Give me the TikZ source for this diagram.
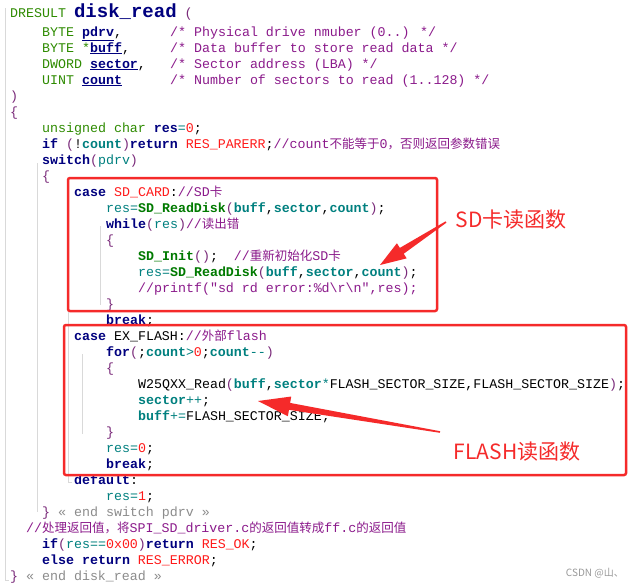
\documentclass[tikz,border=0pt]{standalone}
\usepackage{fontspec}
\usetikzlibrary{calc}
\newfontfamily\code{Liberation Mono}
\newfontfamily\cjk{Noto Sans CJK SC}
\definecolor{kw}{HTML}{00007F}
\definecolor{ty}{HTML}{2E8B00}
\definecolor{cm}{HTML}{8B1A8B}
\definecolor{rd}{HTML}{FF1A1A}
\definecolor{va}{HTML}{00807F}
\definecolor{fn}{HTML}{007A00}
\definecolor{pu}{HTML}{7A2A7A}
\definecolor{box}{HTML}{F52A2A}
\newcommand\kw[1]{\textcolor{kw}{\textbf{#1}}}
\newcommand\ty[1]{\textcolor{ty}{#1}}
\newcommand\pa[1]{\textcolor{kw}{\textbf{\underline{#1}}}}
\newcommand\cm[1]{\textcolor{cm}{#1}}
\newcommand\zh[1]{{\cjk\fontsize{12.5}{16}\selectfont #1}}
\newcommand\rd[1]{\textcolor{rd}{#1}}
\newcommand\va[1]{\textcolor{va}{#1}}
\newcommand\vb[1]{\textcolor{va}{\textbf{#1}}}
\newcommand\fn[1]{\textcolor{fn}{\textbf{#1}}}
\newcommand\pu[1]{\textcolor{pu}{#1}}
\tikzset{
  ln/.style={anchor=base west,inner sep=0pt,font=\code\fontsize{13.3}{16}\selectfont},
  redbox/.style={draw=box,line width=2.5pt,rounded corners=2pt},
  lbl/.style={text=box,font=\cjk\fontsize{21}{24}\selectfont,inner sep=0pt},
  fold/.style={draw=black!15,line width=0.6pt},
}
\newcommand\bigarrow[4]{% tip, tail, headlen, headhalf
  \fill[box] (#1) -- ($($(#1)!#3!(#2)$)!#4!90:(#2)$) -- ($($(#1)!#3!(#2)$)!3.5pt!90:(#2)$)
    -- ($(#2)!0.8pt!-90:(#1)$) -- ($(#2)!0.8pt!90:(#1)$)
    -- ($($(#1)!#3!(#2)$)!3.5pt!-90:(#2)$) -- ($($(#1)!#3!(#2)$)!#4!-90:(#2)$) -- cycle;}
\begin{document}
\begin{tikzpicture}[x=1pt,y=-1pt]
\useasboundingbox[fill=white] (0,0) rectangle (636,587);
% fold guides
\draw[fold] (5,8) -- (5,580) -- (9,580);
\draw[fold] (37,163) -- (37,512);
\draw[fold] (68,180) -- (68,482) -- (72,482);
\draw[fold] (100,226) -- (100,305);
\draw[fold] (82,354) -- (82,434);
\node[ln] (a1) at (10,17) {\ty{DRESULT} {\fontsize{19}{20}\selectfont\kw{disk\_read}} \pu{(}};
\node[ln] (a2) at (42,36) {\ty{BYTE} \pa{pdrv},};
\node[ln] (a3) at (42,52) {\ty{BYTE} \ty{*}\pa{buff},};
\node[ln] (a4) at (42,68) {\ty{DWORD} \pa{sector},};
\node[ln] (a5) at (42,84) {\ty{UINT} \pa{count}};
\node[ln] (c2) at (170,36) {\cm{/* Physical drive nmuber (0..) */}};
\node[ln] (c3) at (170,52) {\cm{/* Data buffer to store read data */}};
\node[ln] (c4) at (170,68) {\cm{/* Sector address (LBA) */}};
\node[ln] (c5) at (170,84) {\cm{/* Number of sectors to read (1..128) */}};
\node[ln] (a6) at (10,100) {\pu{)}};
\node[ln] (a7) at (10,116) {\pu{\{}};
\node[ln] (a8) at (42,132) {\ty{unsigned char} \kw{res}\va{=}\rd{0};};
\node[ln] (a9) at (42,148) {\kw{if} \pu{(}!\vb{count}\pu{)}\kw{return} \rd{RES\_PARERR};\cm{//count\zh{不能等于}0\zh{，否则返回参数错误}}};
\node[ln] (a10) at (42,164) {\kw{switch}\pu{(}\va{pdrv}\pu{)}};
\node[ln] (a11) at (42,180) {\pu{\{}};
\node[ln] (a12) at (74,196) {\kw{case} \rd{SD\_CARD}:\cm{//SD\zh{卡}}};
\node[ln] (a13) at (106,212) {\va{res=}\fn{SD\_ReadDisk}\pu{(}\vb{buff},\vb{sector},\vb{count}\pu{)};};
\node[ln] (a14) at (106,228) {\kw{while}\pu{(}\va{res}\pu{)}\cm{//\zh{读出错}}};
\node[ln] (a15) at (106,244) {\pu{\{}};
\node[ln] (a16) at (138,260) {\fn{SD\_Init}\pu{()};\ \ \cm{//\zh{重新初始化}SD\zh{卡}}};
\node[ln] (a17) at (138,276) {\va{res=}\fn{SD\_ReadDisk}\pu{(}\vb{buff},\vb{sector},\vb{count}\pu{)};};
\node[ln] (a18) at (138,292) {\cm{//printf("sd rd error:\%d\textbackslash r\textbackslash n",res);}};
\node[ln] (a19) at (106,308) {\pu{\}}};
\node[ln] (a20) at (106,324) {\kw{break};};
\node[ln] (a21) at (74,340) {\kw{case} EX\_FLASH:\cm{//\zh{外部}flash}};
\node[ln] (a22) at (106,356) {\kw{for}\pu{(};\vb{count}\va{>}\rd{0};\vb{count}\va{-{}-}\pu{)}};
\node[ln] (a23) at (106,372) {\pu{\{}};
\node[ln] (a24) at (138,388) {W25QXX\_Read\pu{(}\vb{buff},\vb{sector}\va{*}FLASH\_SECTOR\_SIZE,FLASH\_SECTOR\_SIZE\pu{)};};
\node[ln] (a25) at (138,404) {\vb{sector}\va{++};};
\node[ln] (a26) at (138,420) {\vb{buff}\va{+=}FLASH\_SECTOR\_SIZE;};
\node[ln] (a27) at (106,436) {\pu{\}}};
\node[ln] (a28) at (106,452) {\va{res=}\rd{0};};
\node[ln] (a29) at (106,468) {\kw{break};};
\node[ln] (a30) at (74,484) {\kw{default}:};
\node[ln] (a31) at (106,500) {\va{res=}\rd{1};};
\node[ln] (a32) at (42,516) {\pu{\}} \textcolor{black!45}{« end switch pdrv »}};
\node[ln] (a33) at (26,532) {\cm{//\zh{处理返回值，将}SPI\_SD\_driver.c\zh{的返回值转成}ff.c\zh{的返回值}}};
\node[ln] (a34) at (42,548) {\kw{if}\pu{(}\va{res==}\rd{0x00}\pu{)}\kw{return} \rd{RES\_OK};};
\node[ln] (a35) at (42,564) {\kw{else} \kw{return} \rd{RES\_ERROR};};
\node[ln] (a36) at (10,580) {\pu{\}} \textcolor{black!45}{« end disk\_read »}};
% boxes
\draw[redbox] (68,178) rectangle (437,311);
\draw[redbox] (64,325) rectangle (626,475);
% arrows
\coordinate (p1) at (380,265); \coordinate (t1) at (446,222);
\coordinate (p2) at (258,401); \coordinate (t2) at (440,432);
\bigarrow{p1}{t1}{26pt}{9pt}
\bigarrow{p2}{t2}{32pt}{10pt}
\node[lbl] (s1) at (511,220) {SD卡读函数};
\node[lbl] (s2) at (517,452) {FLASH读函数};
\node[text=black!40,font=\cjk\fontsize{10}{12}\selectfont,anchor=east,inner sep=0pt] (wm) at (624,573) {CSDN @山、};
\end{tikzpicture}
\end{document}
